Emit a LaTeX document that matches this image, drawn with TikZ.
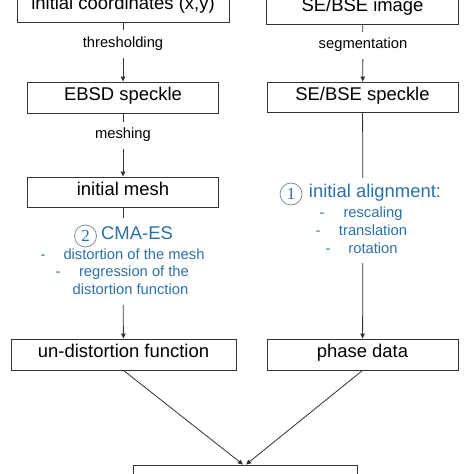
\documentclass[tikz,border=0pt]{standalone}
\usepackage{fontspec}
\setmainfont{Liberation Sans}
\newfontfamily\digitfont{Liberation Serif}
\usetikzlibrary{arrows.meta}
\definecolor{stepblue}{RGB}{44,112,168}
\definecolor{circgray}{RGB}{110,130,150}
\definecolor{linegray}{RGB}{50,50,50}
\tikzset{
  stepbox/.style={draw=linegray, line width=0.9bp, minimum height=31bp, inner sep=0pt,
    font=\fontsize{18.5}{20}\selectfont, text height=0.72em, text depth=0.06em},
  steplabel/.style={font=\fontsize{14.8}{16}\selectfont, inner sep=0pt, minimum height=27bp,
    text height=0.72em, text depth=0.1em},
  bluetitle/.style={font=\fontsize{18.5}{20}\selectfont, text=stepblue, inner sep=0pt,
    text height=0.72em, text depth=0.06em},
  blueitem/.style={font=\fontsize{14.8}{16}\selectfont, text=stepblue, inner sep=0pt,
    text height=0.72em, text depth=0.1em},
  numcirc/.style={circle, draw=circgray, line width=0.7bp, minimum size=22bp, inner sep=0pt,
    text=stepblue, font=\digitfont\fontsize{17}{17}\selectfont},
  ghost/.style={inner sep=0pt, minimum width=2bp},
  conn/.style={draw=linegray, line width=0.8bp},
  arr/.style={conn, -{Triangle[length=5bp,width=4.5bp]}}
}
\begin{document}
\begin{tikzpicture}[x=1bp,y=-1bp]
\useasboundingbox (0,0) rectangle (474,474);
\clip (0,0) rectangle (474,474);
\fill[white] (0,0) rectangle (474,474);

% boxes
\node[stepbox, minimum width=212bp] (n1) at (123,6.5) {initial coordinates (x,y)};
\node[stepbox, minimum width=192bp] (n2) at (362.5,8.5) {SE/BSE image};
\node[stepbox, minimum width=191bp] (n3) at (123,97.5) {EBSD speckle};
\node[stepbox, minimum width=191bp, minimum height=30bp] (n4) at (362.5,97) {SE/BSE speckle};
\node[stepbox, minimum width=191bp, minimum height=30bp] (n5) at (123,192) {initial mesh};
\node[stepbox, minimum width=225bp] (n6) at (123.5,354.5) {un-distortion function};
\node[stepbox, minimum width=191bp] (n7) at (362.5,354.5) {phase data};
\node[stepbox, minimum width=224bp] (n8) at (245,480.5) {};

% labels on connectors
\node[steplabel] (l1) at (123,44) {thresholding};
\node[steplabel] (l2) at (363,45.5) {segmentation};
\node[steplabel] (l3) at (123,135.5) {meshing};

% right blue group
\node[ghost, minimum height=85bp] (g1) at (363,220.5) {};
\node[numcirc] (c1) at (291,194) {1};
\node[bluetitle] (t1) at (375,194) {initial alignment:};
\node[blueitem] (d1a) at (322,214) {-};
\node[blueitem] (i1a) at (373,214) {rescaling};
\node[blueitem] (d1b) at (318,232) {-};
\node[blueitem] (i1b) at (373,232) {translation};
\node[blueitem] (d1c) at (328,250) {-};
\node[blueitem] (i1c) at (373,250) {rotation};

% left blue group
\node[ghost, minimum height=87bp] (g2) at (123,261.5) {};
\node[numcirc] (c2) at (85.5,236) {2};
\node[bluetitle] (t2) at (137,236) {CMA-ES};
\node[blueitem] (d2a) at (43,256) {-};
\node[blueitem] (i2a) at (134,256) {distortion of the mesh};
\node[blueitem] (d2b) at (58,273) {-};
\node[blueitem] (i2b) at (134,273) {regression of the};
\node[blueitem] (i2c) at (130.5,291) {distortion function};

% connectors
\draw[conn] (n1) -- (l1);
\draw[arr] (l1) -- (n3);
\draw[conn] (n3) -- (l3);
\draw[arr] (l3) -- (n5);
\draw[conn] (n5) -- (g2);
\draw[arr] (g2) -- (n6);

\draw[conn] (n2) -- (l2);
\draw[arr] (l2) -- (n4);
\draw[conn] (n4) -- (g1);
\draw[arr] (g1) -- (n7);

\draw[arr] (n6.south) -- ([xshift=-2bp]n8.north);
\draw[arr] (n7.south) -- ([xshift=1bp]n8.north);
\end{tikzpicture}
\end{document}
